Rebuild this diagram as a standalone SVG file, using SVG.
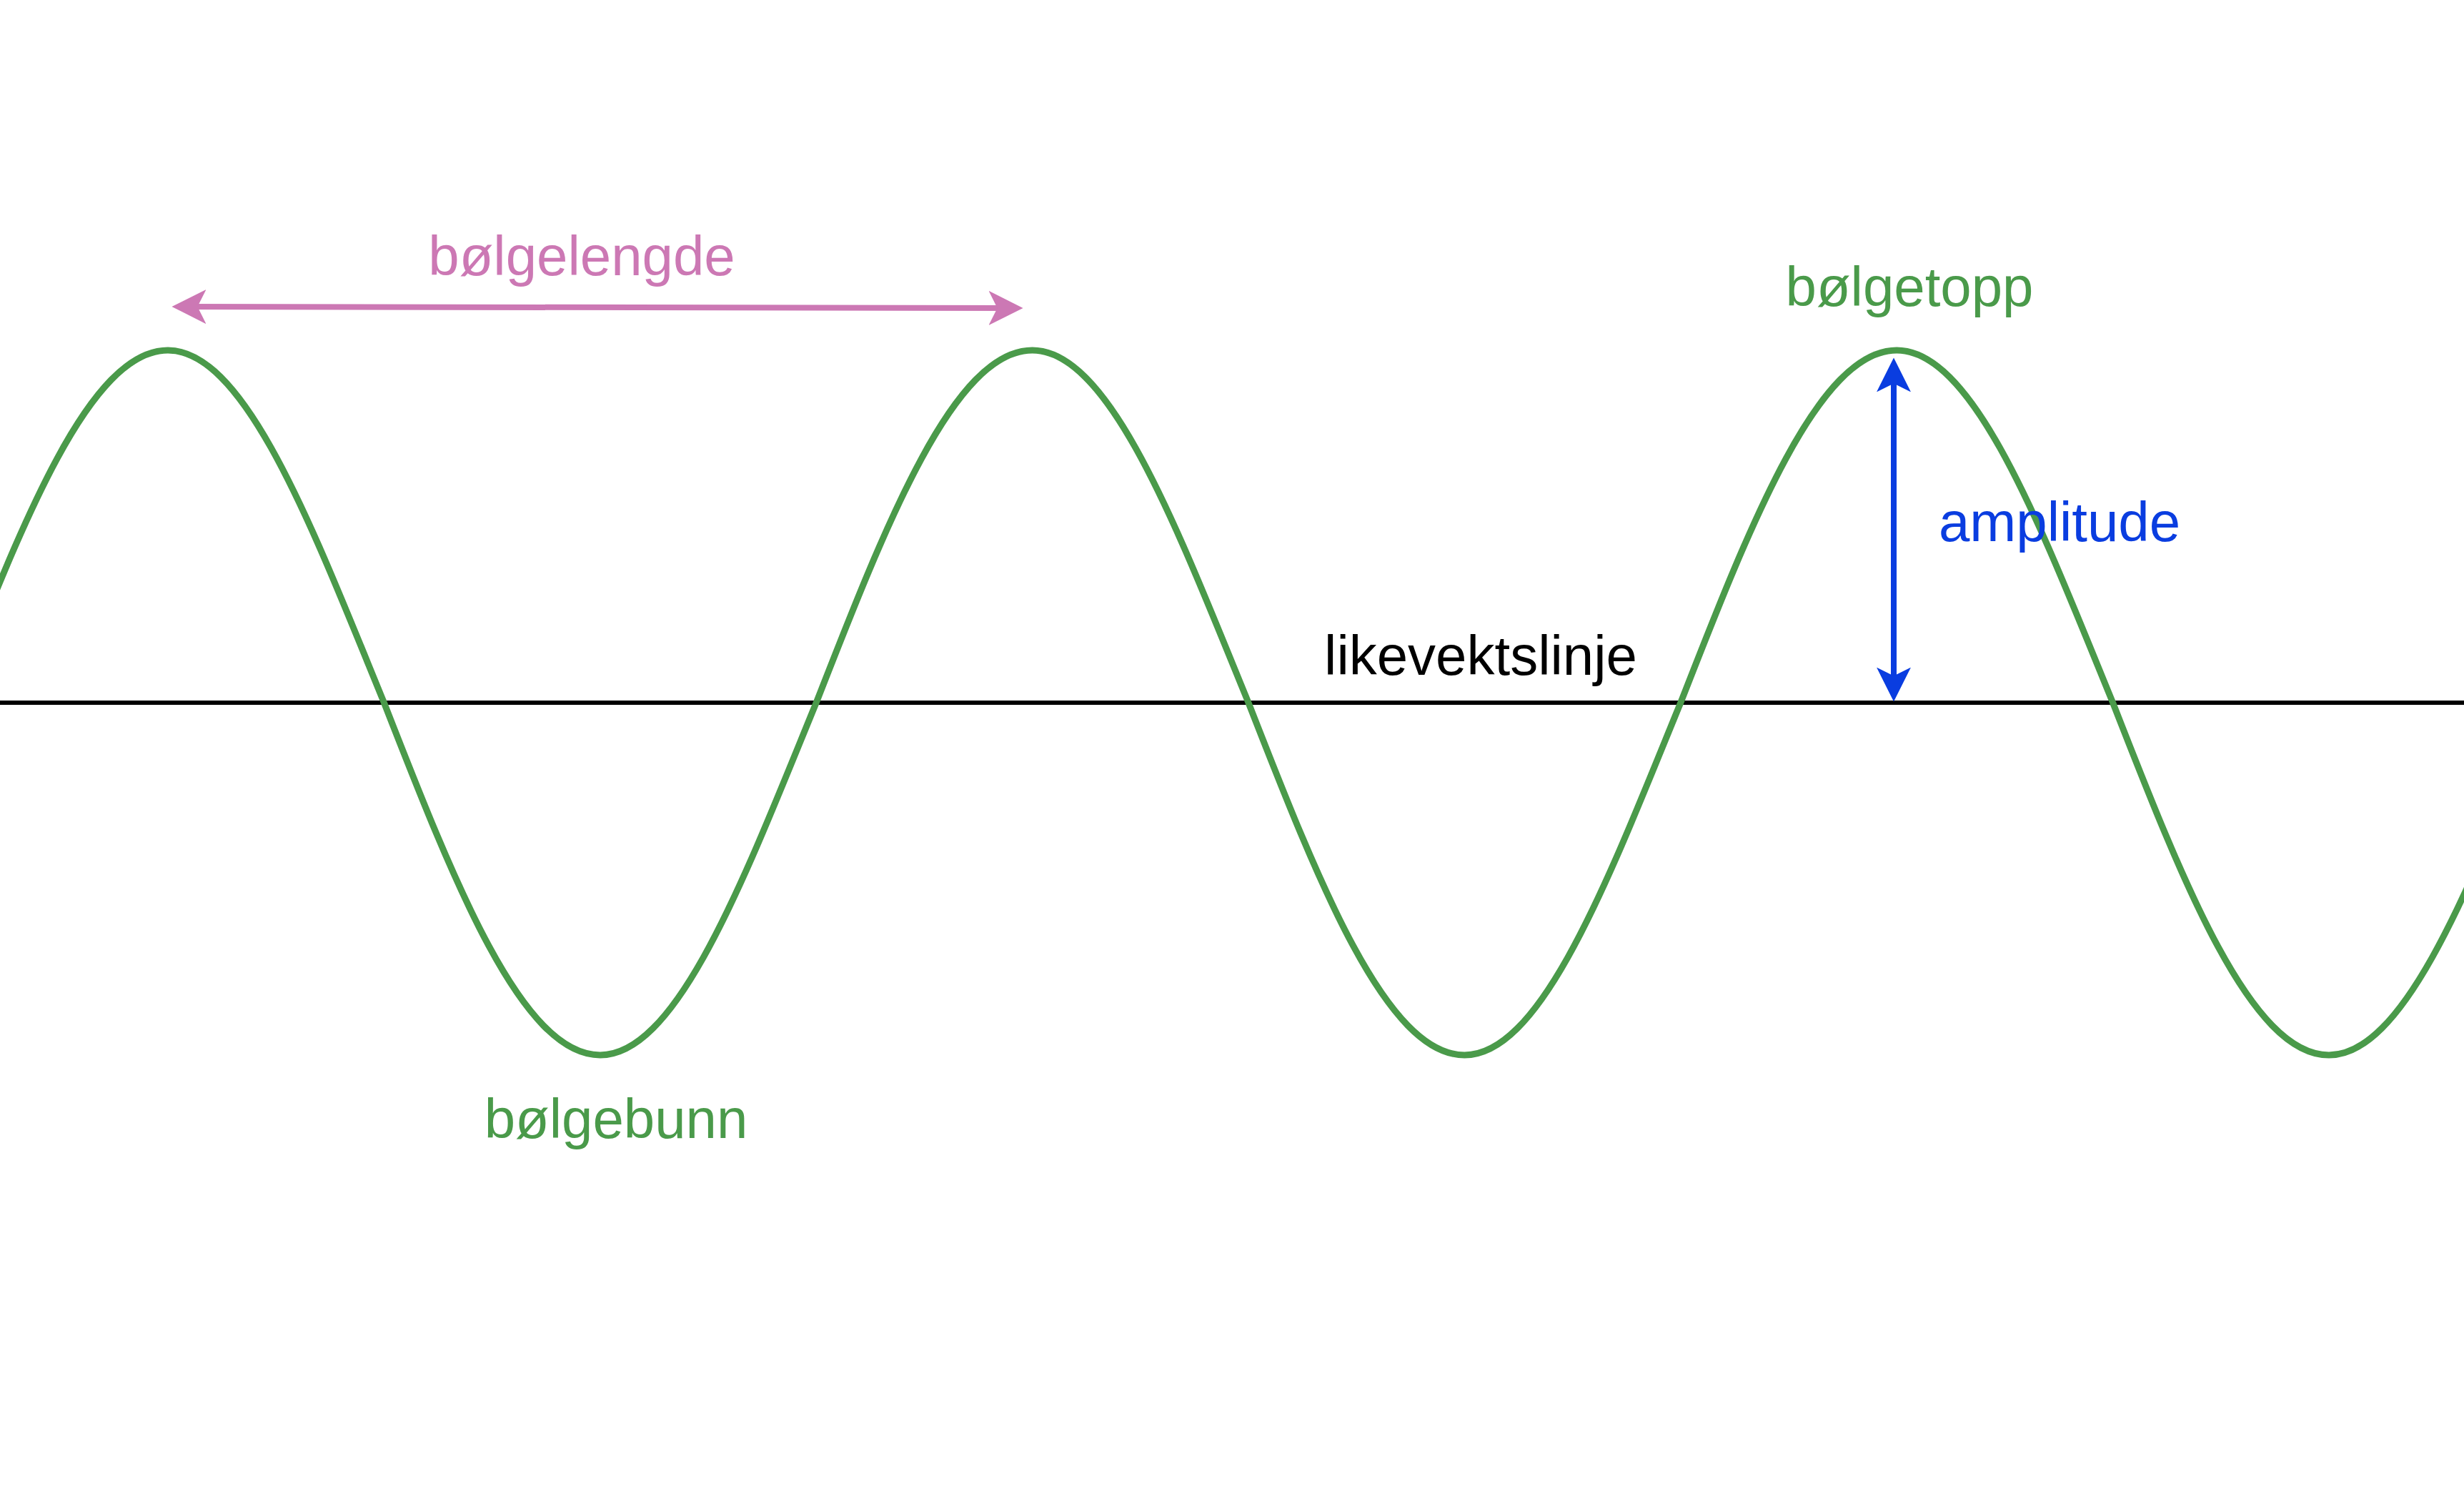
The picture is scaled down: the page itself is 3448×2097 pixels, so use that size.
<svg xmlns="http://www.w3.org/2000/svg" width="3448" height="2097" viewBox="0 0 3448 2097">
<style>
.t{font-family:"Liberation Sans",Arial,sans-serif;font-size:78px;text-anchor:middle}
</style>
<defs>
<marker id="pk" viewBox="0 0 20 20" refX="16" refY="10" markerWidth="6" markerHeight="6" orient="auto-start-reverse" markerUnits="strokeWidth"><path d="M0,0 L20,10 L0,20 L5,10 Z" fill="#cc78b4"/></marker>
<marker id="bl" viewBox="0 0 20 20" refX="16" refY="10" markerWidth="6" markerHeight="6" orient="auto-start-reverse" markerUnits="strokeWidth"><path d="M0,0 L20,10 L0,20 L5,10 Z" fill="#0a3de0"/></marker>
</defs>
<rect width="3448" height="2097" fill="#fff"/>
<g id="equilibrium"><line x1="0" y1="983" x2="3448" y2="983" stroke="#000" stroke-width="6"/></g>
<g id="wave"><path fill="none" stroke="#4a9a4a" stroke-width="9" d="M-67.4,983 c98.6,-252.6 193,-493 302.4,-493 c109.4,0 203.8,252.6 302.4,493 c98.6,252.6 193,493 302.4,493 c109.4,0 203.8,-252.6 302.4,-493 c98.6,-252.6 193,-493 302.4,-493 c109.4,0 203.8,252.6 302.4,493 c98.6,252.6 193,493 302.4,493 c109.4,0 203.8,-252.6 302.4,-493 c98.6,-252.6 193,-493 302.4,-493 c109.4,0 203.8,252.6 302.4,493 c98.6,252.6 193,493 302.4,493 c109.4,0 203.8,-252.6 302.4,-493"/></g>
<g id="connectors">
<line x1="250" y1="429" x2="1422" y2="431" stroke="#cc78b4" stroke-width="8" marker-start="url(#pk)" marker-end="url(#pk)"/>
<line x1="2650" y1="510" x2="2650" y2="972" stroke="#0a3de0" stroke-width="8" marker-start="url(#bl)" marker-end="url(#bl)"/>
</g>
<g id="labels">
<text class="t" x="814" y="385" fill="#cc78b4">bølgelengde</text>
<text class="t" x="2672" y="428" fill="#4a9a4a">bølgetopp</text>
<text class="t" x="2882" y="757" fill="#0a3de0">amplitude</text>
<text class="t" x="2072" y="944" fill="#000">likevektslinje</text>
<text class="t" x="862" y="1592" fill="#4a9a4a">bølgebunn</text>
</g>
</svg>
